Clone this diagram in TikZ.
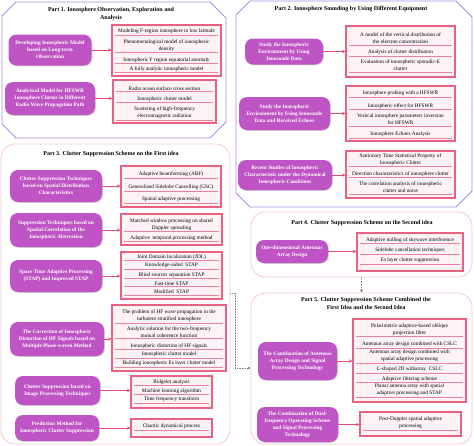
\documentclass[tikz,border=0pt]{standalone}
\usepackage{fontspec}
\setmainfont{Liberation Serif}
\usetikzlibrary{arrows.meta, positioning, shadows}

\definecolor{topicpurple}{RGB}{191,84,196}
\definecolor{framepurple}{RGB}{170,140,230}
\definecolor{framepink}{RGB}{243,203,214}
\definecolor{listpink}{RGB}{234,98,130}
\definecolor{listfill}{RGB}{254,242,245}
\definecolor{seppink}{RGB}{232,130,160}
\definecolor{linkred}{RGB}{226,76,110}

\begin{document}
\begin{tikzpicture}[x=1pt, y=-1pt, font=\fontsize{5.3}{7}\selectfont,
    parttitle/.style={font=\fontsize{6}{8}\selectfont\bfseries, align=center},
    partframe/.style={draw=framepurple, line width=.8pt},
    partbox/.style={draw=framepink, line width=.8pt, rounded corners=14pt, fill=white, inner sep=0pt},
    topicbox/.style={fill=topicpurple, text=white, rounded corners=8pt, align=center, inner sep=1pt,
        font=\fontsize{5.3}{7}\selectfont\bfseries,
        drop shadow={shadow xshift=.8pt, shadow yshift=-.8pt, opacity=.35}},
    listbox/.style={draw=listpink, line width=1.1pt, fill=listfill, inner sep=0pt},
    itemtext/.style={align=center, inner xsep=0pt, inner ysep=1pt},
    sepline/.style={draw=seppink, line width=.5pt},
    link/.style={draw=linkred, line width=.8pt, -{Stealth[length=3.5pt, width=3.5pt]}},
    dashlink/.style={draw=gray, densely dotted, line width=.6pt, -{Stealth[length=3pt, width=3pt]}}]
\useasboundingbox (0,0) rectangle (474,445);

% Part 1
\draw[partframe] (16,2) -- (210,2) -- (226,18) -- (226,122) -- (210,138) -- (16,138) -- (2,124) -- (2,16) -- cycle;
\node[parttitle] (t1) at (111,14) {Part 1. Ionosphere Observation, Exploration and\\Analysis};
\node[topicbox, minimum width=83pt, minimum height=31pt] (a1) at (50,50) {Developing Ionospheric Model\\based on Long-term\\Observation};
\node[listbox, minimum width=109pt, minimum height=51pt] (a1-l) at (166.5,50.5) {};
\foreach \t/\y [count=\i] in {{Modeling F-region ionosphere in low latitude}/31.7,
    {Phenomenological model of ionospheric\\density}/45.5,
    {Ionospheric F region equatorial anomaly}/60,
    {A fully analytic ionospheric model}/69} {
    \node[itemtext] (a1-l-\i) at (166.5,\y) {\t};
    \draw[sepline] ([xshift=4pt]a1-l.west |- a1-l-\i.south) -- ([xshift=-4pt]a1-l.east |- a1-l-\i.south);
}
\node[topicbox, minimum width=90pt, minimum height=33pt] (a2) at (50,98.5) {Analytical Model for HFSWR\\Ionosphere Clutter in Different\\Radio Wave Propagation Path};
\node[listbox, minimum width=103pt, minimum height=43pt] (a2-l) at (164.5,101.5) {};
\foreach \t/\y [count=\i] in {{Radar ocean surface cross section}/88.3,
    {Ionospheric clutter model}/99,
    {Scattering of high-frequency\\electromagnetic radiation}/112.8} {
    \node[itemtext] (a2-l-\i) at (164.5,\y) {\t};
    \draw[sepline] ([xshift=4pt]a2-l.west |- a2-l-\i.south) -- ([xshift=-4pt]a2-l.east |- a2-l-\i.south);
}

% Part 2
\draw[partframe] (250,1) -- (456,1) -- (472,17) -- (472,191) -- (456,207) -- (250,207) -- (236,193) -- (236,15) -- cycle;
\node[parttitle] (t2) at (351,9.5) {Part 2. Ionosphere Sounding by Using Different Equipment};
\node[topicbox, minimum width=78pt, minimum height=26pt] (b1) at (284,51.5) {Study the Ionospheric\\Environment by Using\\Ionosonde Data};
\node[listbox, minimum width=109pt, minimum height=51pt] (b1-l) at (400.5,51.5) {};
\foreach \t/\y [count=\i] in {{A model of the vertical distribution of\\the electron concentration}/38.3,
    {Analysis of clutter distribution}/52.3,
    {Evaluation of ionospheric sporadic-E\\clutter}/65.5} {
    \node[itemtext] (b1-l-\i) at (400.5,\y) {\t};
    \draw[sepline] ([xshift=4pt]b1-l.west |- b1-l-\i.south) -- ([xshift=-4pt]b1-l.east |- b1-l-\i.south);
}
\node[topicbox, minimum width=91pt, minimum height=33pt] (b2) at (284.5,113.5) {Study the Ionospheric\\Environment by Using Ionosonde\\Data and Received Echoes};
\node[listbox, minimum width=109pt, minimum height=55pt] (b2-l) at (400.5,113.5) {};
\foreach \t/\y [count=\i] in {{Ionosphere probing with a HFSWR}/93.3,
    {Ionospheric effect for HFSWR}/106,
    {Vertical ionosphere parameters inversion\\for HFSWR}/119.3,
    {Ionosphere Echoes Analysis}/134.3} {
    \node[itemtext] (b2-l-\i) at (400.5,\y) {\t};
    \draw[sepline] ([xshift=4pt]b2-l.west |- b2-l-\i.south) -- ([xshift=-4pt]b2-l.east |- b2-l-\i.south);
}
\node[topicbox, minimum width=94pt, minimum height=30pt] (b3) at (285,175) {Recent Studies of Ionospheric\\Characteristic under the Dynamical\\Ionospheric Conditions};
\node[listbox, minimum width=109pt, minimum height=47pt] (b3-l) at (400.5,174.5) {};
\foreach \t/\y [count=\i] in {{Stationary Time Statistical Property of\\Ionospheric Clutter}/159.2,
    {Direction characteristics of ionosphere clutter}/173.7,
    {The correlation analysis of ionospheric\\clutter and noise}/187.2} {
    \node[itemtext] (b3-l-\i) at (400.5,\y) {\t};
    \draw[sepline] ([xshift=4pt]b3-l.west |- b3-l-\i.south) -- ([xshift=-4pt]b3-l.east |- b3-l-\i.south);
}

% Part 3
\node[partbox, minimum width=229pt, minimum height=300pt] (p3) at (115.5,294) {};
\node[parttitle] (t3) at (111,154.5) {Part 3. Clutter Suppression Scheme on the First idea};
\node[topicbox, minimum width=92pt, minimum height=32pt] (c1) at (56,186) {Clutter Suppression Techniques\\based on Spatial Distribution\\Characteristics};
\node[listbox, minimum width=100pt, minimum height=41pt] (c1-l) at (171,186.5) {};
\foreach \t/\y [count=\i] in {{Adaptive beamforming (ABF)}/174.3,
    {Generalized Sidelobe Cancelling (GSC)}/187.7,
    {Spatial adaptive processing}/199.3} {
    \node[itemtext] (c1-l-\i) at (171,\y) {\t};
    \draw[sepline] ([xshift=4pt]c1-l.west |- c1-l-\i.south) -- ([xshift=-4pt]c1-l.east |- c1-l-\i.south);
}
\node[topicbox, minimum width=92pt, minimum height=34pt] (c2) at (56,230) {Suppression Techniques based on\\Spatial Correlation of the\\Ionospheric Aberration};
\node[listbox, minimum width=101pt, minimum height=31pt] (c2-l) at (171.5,229.5) {};
\foreach \t/\y [count=\i] in {{Matched window processing on shared\\Doppler spreading}/224.5,
    {Adaptive~ temporal processing method}/238} {
    \node[itemtext] (c2-l-\i) at (171.5,\y) {\t};
    \draw[sepline] ([xshift=4pt]c2-l.west |- c2-l-\i.south) -- ([xshift=-4pt]c2-l.east |- c2-l-\i.south);
}
\node[topicbox, minimum width=92pt, minimum height=32pt] (c3) at (56,276) {Space Time Adaptive Processing\\(STAP) and Improved STAP};
\node[listbox, minimum width=101pt, minimum height=47pt] (c3-l) at (171.5,275.5) {};
\foreach \t/\y [count=\i] in {{Joint Domain localization (JDL)}/257,
    {Knowledge-aided~ STAP}/265.7,
    {Blind sources separation STAP}/275,
    {Fast-time STAP}/283.3,
    {Modified~ STAP}/292} {
    \node[itemtext] (c3-l-\i) at (171.5,\y) {\t};
    \draw[sepline] ([xshift=4pt]c3-l.west |- c3-l-\i.south) -- ([xshift=-4pt]c3-l.east |- c3-l-\i.south);
}
\node[topicbox, minimum width=94pt, minimum height=34pt] (c4) at (57,339) {The Correction of Ionospheric\\Distortion of HF Signals based on\\Multiple Phase-screen Method};
\node[listbox, minimum width=114pt, minimum height=66pt] (c4-l) at (169,338) {};
\foreach \t/\y [count=\i] in {{The problem of HF wave propagation in the\\turbulent stratified ionosphere}/315.8,
    {Analytic solution for the two-frequency\\mutual coherence function}/331.7,
    {Ionospheric distortion of HF signals}/345.7,
    {Ionospheric clutter model}/354.7,
    {Building ionospheric Es layer clutter model}/363.3} {
    \node[itemtext] (c4-l-\i) at (169,\y) {\t};
    \draw[sepline] ([xshift=4pt]c4-l.west |- c4-l-\i.south) -- ([xshift=-4pt]c4-l.east |- c4-l-\i.south);
}
\node[topicbox, minimum width=85pt, minimum height=29pt] (c5) at (57.5,390.5) {Clutter Suppression based on\\Image Processing Techniques};
\node[listbox, minimum width=81pt, minimum height=32pt] (c5-l) at (171.5,392) {};
\foreach \t/\y [count=\i] in {{Ridgelet analysis}/382,
    {Machine learning algorithm}/391,
    {Time frequency transform}/399.3} {
    \node[itemtext] (c5-l-\i) at (171.5,\y) {\t};
    \draw[sepline] ([xshift=4pt]c5-l.west |- c5-l-\i.south) -- ([xshift=-4pt]c5-l.east |- c5-l-\i.south);
}
\node[topicbox, minimum width=84pt, minimum height=26pt] (c6) at (57,428) {Prediction Method for\\Ionospheric Clutter Suppression};
\node[listbox, minimum width=81pt, minimum height=18pt] (c6-l) at (171.5,428) {};
\node[itemtext] (c6-l-1) at (171.5,426.3) {Chaotic dynamical process};
\draw[sepline] ([xshift=4pt]c6-l.west |- c6-l-1.south) -- ([xshift=-4pt]c6-l.east |- c6-l-1.south);

% Part 4
\node[partbox, minimum width=221pt, minimum height=65pt] (p4) at (361.5,244.5) {};
\node[parttitle] (t4) at (362,223.3) {Part 4. Clutter Suppression Scheme on the Second idea};
\node[topicbox, minimum width=72pt, minimum height=23pt] (d1) at (292,251.5) {One-dimensional Antennas\\Array Design};
\node[listbox, minimum width=106pt, minimum height=38pt] (d1-l) at (410,252) {};
\foreach \t/\y [count=\i] in {{Adaptive nulling of skywave interference}/240,
    {Sidelobe cancellation techniques}/250.3,
    {Es layer clutter suppression}/260.7} {
    \node[itemtext] (d1-l-\i) at (410,\y) {\t};
    \draw[sepline] ([xshift=4pt]d1-l.west |- d1-l-\i.south) -- ([xshift=-4pt]d1-l.east |- d1-l-\i.south);
}

% Part 5
\node[partbox, minimum width=221pt, minimum height=151pt] (p5) at (361.5,368.5) {};
\node[parttitle] (t5) at (366,303.3) {Part 5. Clutter Suppression Scheme Combined the\\First Idea and the Second Idea};
\node[topicbox, minimum width=79pt, minimum height=38pt] (e1) at (297.5,361) {The Combination of Antennas\\Array Design and Signal\\Processing Technology};
\node[listbox, minimum width=113pt, minimum height=83pt] (e1-l) at (409.5,360.5) {};
\foreach \t/\y [count=\i] in {{Polarimetric-adaptive-based oblique\\projection filter}/329.5,
    {Antennas array design combined with CSLC}/344.3,
    {Antennas array design combined with\\spatial adaptive processing}/355.8,
    {L-shaped 2D witharray~ CSLC}/369.7,
    {Adaptive filtering scheme}/379,
    {Planar antenna array with spatial\\adaptive processing and STAP}/390} {
    \node[itemtext] (e1-l-\i) at (409.5,\y) {\t};
    \draw[sepline] ([xshift=4pt]e1-l.west |- e1-l-\i.south) -- ([xshift=-4pt]e1-l.east |- e1-l-\i.south);
}
\node[topicbox, minimum width=81pt, minimum height=35pt] (e2) at (297.5,424.5) {The Combination of Dual-\\frequency Operating Scheme\\and Signal Processing\\Technology};
\node[listbox, minimum width=101pt, minimum height=24pt] (e2-l) at (410.5,424) {};
\node[itemtext] (e2-l-1) at (410.5,422.8) {Post-Doppler spatial adaptive\\processing};
\draw[sepline] ([xshift=4pt]e2-l.west |- e2-l-1.south) -- ([xshift=-4pt]e2-l.east |- e2-l-1.south);

% arrows
\foreach \n in {a1,a2,b1,b2,b3,c1,c2,c3,c4,c5,c6,d1,e1,e2}
    \draw[link] (\n.east) -- (\n.east -| \n-l.west);
\coordinate (bend) at (235,293);
\coordinate (p5in) at (p5.west |- 0,368);
\draw[dashlink] (p3.east |- bend) -- (bend) |- (p5in);
\draw[dashlink] (p4.south) -- (p5.north);
\end{tikzpicture}
\end{document}
